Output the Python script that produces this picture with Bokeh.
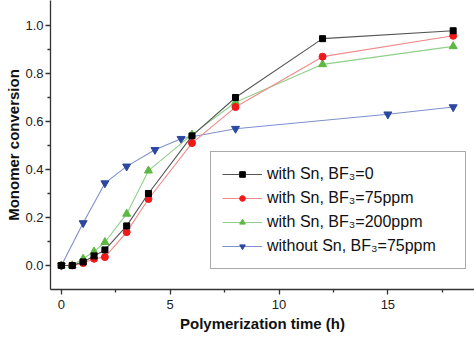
from bokeh.plotting import figure
from bokeh.models import (FixedTicker, Legend, LegendItem, LinearAxis, Range1d)
from bokeh.embed import file_html
from bokeh.resources import INLINE

# ---- data ----
time_sn = [0, 0.5, 1, 1.5, 2, 3, 4, 6, 8, 12, 18]
conv_bf0 = [0, 0, 0.015, 0.04, 0.065, 0.165, 0.30, 0.54, 0.70, 0.945, 0.978]
conv_bf75 = [0, 0, 0.01, 0.028, 0.035, 0.139, 0.277, 0.51, 0.66, 0.87, 0.957]
conv_bf200 = [0, 0, 0.028, 0.058, 0.097, 0.215, 0.395, 0.545, 0.68, 0.838, 0.913]
time_nosn = [0, 1, 2, 3, 4.3, 5.5, 8, 15, 18]
conv_nosn = [0, 0.177, 0.343, 0.413, 0.482, 0.528, 0.57, 0.63, 0.66]

labels = ["with Sn, BF\u2083=0", "with Sn, BF\u2083=75ppm",
          "with Sn, BF\u2083=200ppm", "without Sn, BF\u2083=75ppm"]

x_ticks = [0, 5, 10, 15]
x_minor = [2.5, 7.5, 12.5, 17.5]
y_ticks = [0.0, 0.2, 0.4, 0.6, 0.8, 1.0]
y_minor = [0.1, 0.3, 0.5, 0.7, 0.9]
y_tick_labels = ["0.0", "0.2", "0.4", "0.6", "0.8", "1.0"]

FONT = "Liberation Sans"

p = figure(width=474, height=338, output_backend="svg", toolbar_location=None,
           x_axis_type=None, y_axis_type=None,
           x_range=Range1d(-0.5, 18.98), y_range=Range1d(-0.1, 1.104),
           min_border_left=50, min_border_right=0, min_border_top=0,
           min_border_bottom=49)
p.outline_line_color = None
p.xgrid.visible = False
p.ygrid.visible = False

xa = LinearAxis(ticker=FixedTicker(ticks=x_ticks, minor_ticks=x_minor))
ya = LinearAxis(ticker=FixedTicker(ticks=y_ticks, minor_ticks=y_minor))
ya.major_label_overrides = {t: l for t, l in zip(y_ticks, y_tick_labels)}
for ax in (xa, ya):
    ax.axis_line_color = "#333333"
    ax.axis_line_width = 1.3
    ax.major_tick_line_color = "#333333"
    ax.minor_tick_line_color = "#333333"
    ax.major_tick_line_width = 1.3
    ax.minor_tick_line_width = 1.3
    ax.major_tick_in = 0
    ax.major_tick_out = 5
    ax.minor_tick_in = 0
    ax.minor_tick_out = 3
    ax.major_label_text_font = FONT
    ax.major_label_text_font_size = "13px"
    ax.major_label_text_color = "#222222"
    ax.axis_label_text_font = FONT
    ax.axis_label_text_font_style = "bold"
    ax.axis_label_text_font_size = "15px"
    ax.axis_label_text_color = "#111111"
xa.axis_label = "Polymerization time (h)"
ya.axis_label = "Monomer conversion"
xa.major_label_standoff = 5
ya.major_label_standoff = 2
xa.axis_label_standoff = 3
ya.axis_label_standoff = 0
p.add_layout(xa, "below")
p.add_layout(ya, "left")

series = [
    (time_nosn, conv_nosn, "#8090cc", "#2c48a0", "inverted_triangle", 8),
    (time_sn, conv_bf200, "#8fd08a", "#5cb840", "triangle", 8),
    (time_sn, conv_bf75, "#f08a8a", "#f01818", "circle", 7),
    (time_sn, conv_bf0, "#555555", "#000000", "square", 6),
]
rends = []
for xs, ys, lc, mc, mk, sz in series:
    lr = p.line(xs, ys, line_color=lc, line_width=1.1)
    sr = p.scatter(xs, ys, marker=mk, size=sz, fill_color=mc, line_color=mc)
    rends.append([lr, sr])

order = [3, 2, 1, 0]
items = [LegendItem(label=labels[i], renderers=rends[order[i]]) for i in range(4)]
legend = Legend(items=items, location=(160, 20))
legend.label_text_font = FONT
legend.label_text_font_size = "16px"
legend.label_text_color = "#111111"
legend.glyph_width = 40
legend.glyph_height = 14
legend.label_height = 22
legend.label_width = 187
legend.label_standoff = 5
legend.spacing = 2
legend.padding = 11
legend.margin = 0
legend.border_line_color = "#555555"
legend.border_line_width = 1
legend.background_fill_alpha = 1
p.add_layout(legend, "center")

open("out.html", "w").write(file_html(p, INLINE))
